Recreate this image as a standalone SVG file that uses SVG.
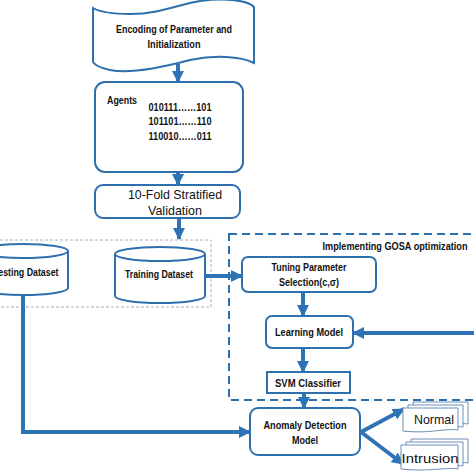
<svg xmlns="http://www.w3.org/2000/svg" width="474" height="474" viewBox="0 0 474 474">
<style>
.box{fill:#fff;stroke:#2e6fad;stroke-width:2}
.con{fill:none;stroke:#2e74b5;stroke-width:4}
.t{font-family:"Liberation Sans",Arial,sans-serif;font-size:11px;font-weight:bold;fill:#111;text-anchor:middle}
.r{font-family:"Liberation Sans",Arial,sans-serif;font-size:13px;fill:#111;text-anchor:middle}
</style>
<defs>
<marker id="ah" markerUnits="userSpaceOnUse" markerWidth="12" markerHeight="12" viewBox="0 0 12 12" refX="11" refY="6" orient="auto">
<path d="M0,0 L12,6 L0,12 Z" fill="#2e74b5"/>
</marker>
</defs>
<rect width="474" height="474" fill="#fff"/>

<g id="regions">
<rect x="-5" y="240" width="216" height="67" fill="none" stroke="#a8b0bc" stroke-width="1" stroke-dasharray="3,2"/>
<rect x="229" y="234" width="260" height="166" fill="none" stroke="#2e6fad" stroke-width="2" stroke-dasharray="8,5"/>
<text class="t" x="395" y="250" textLength="145" lengthAdjust="spacingAndGlyphs">Implementing GOSA optimization</text>
</g>

<g id="connectors">
<line class="con" x1="178" y1="64" x2="178" y2="82" marker-end="url(#ah)"/>
<line class="con" x1="178" y1="172" x2="178" y2="185" marker-end="url(#ah)"/>
<line class="con" x1="179" y1="218" x2="179" y2="239" marker-end="url(#ah)"/>
<line class="con" x1="205" y1="276" x2="242" y2="276" marker-end="url(#ah)"/>
<line class="con" x1="303" y1="292" x2="303" y2="316" marker-end="url(#ah)"/>
<line class="con" x1="474" y1="333" x2="353" y2="333" marker-end="url(#ah)"/>
<line class="con" x1="303" y1="348" x2="303" y2="372" marker-end="url(#ah)"/>
<line class="con" x1="304" y1="393" x2="304" y2="408" marker-end="url(#ah)"/>
<polyline class="con" points="23,295 23,432 250,432" marker-end="url(#ah)"/>
<line class="con" x1="361" y1="432" x2="404" y2="409" marker-end="url(#ah)"/>
<line class="con" x1="361" y1="432" x2="403" y2="464" marker-end="url(#ah)"/>
</g>

<g id="encoding">
<path class="box" d="M93,8 C100,12 110,14 130,14 C160,14 180,4 200,1 C225,-2 248,0 254,7 L254,63 C240,56 215,55 190,60 C160,68 130,74 110,70 C100,68 95,65 93,62 Z"/>
<text class="t" x="174" y="33" textLength="116" lengthAdjust="spacingAndGlyphs">Encoding of Parameter and</text>
<text class="t" x="174" y="48" textLength="53" lengthAdjust="spacingAndGlyphs">Initialization</text>
</g>

<g id="agents">
<rect class="box" x="95" y="82" width="148" height="90" rx="10"/>
<text class="t" x="122" y="104" textLength="30" lengthAdjust="spacingAndGlyphs">Agents</text>
<text class="t" x="180" y="111" textLength="63" lengthAdjust="spacingAndGlyphs">010111……101</text>
<text class="t" x="180" y="125" textLength="63" lengthAdjust="spacingAndGlyphs">101101……110</text>
<text class="t" x="180" y="140" textLength="63" lengthAdjust="spacingAndGlyphs">110010……011</text>
</g>

<g id="validation">
<rect class="box" x="95" y="185" width="145" height="33" rx="8"/>
<text class="r" x="175" y="199" textLength="94" lengthAdjust="spacingAndGlyphs">10-Fold Stratified</text>
<text class="r" x="175" y="215" textLength="54" lengthAdjust="spacingAndGlyphs">Validation</text>
</g>

<g id="testing">
<path class="box" d="M-22,251 L-22,288 A45,7 0 0 0 68,288 L68,251"/>
<ellipse class="box" cx="23" cy="251" rx="45" ry="7"/>
<text class="t" x="26" y="276" textLength="65" lengthAdjust="spacingAndGlyphs">Testing Dataset</text>
</g>

<g id="training">
<path class="box" d="M115,254 L115,296 A45,7 0 0 0 205,296 L205,254"/>
<ellipse class="box" cx="160" cy="254" rx="45" ry="7"/>
<text class="t" x="159" y="278" textLength="68" lengthAdjust="spacingAndGlyphs">Training Dataset</text>
</g>

<g id="tuning">
<rect class="box" x="242" y="257" width="134" height="35" rx="6"/>
<text class="t" x="309" y="271" textLength="75" lengthAdjust="spacingAndGlyphs">Tuning Parameter</text>
<text class="t" x="309" y="286" textLength="60" lengthAdjust="spacingAndGlyphs">Selection(c,σ)</text>
</g>

<g id="learning">
<rect class="box" x="266" y="316" width="87" height="32" rx="6"/>
<text class="t" x="309" y="336" textLength="68" lengthAdjust="spacingAndGlyphs">Learning Model</text>
</g>

<g id="svm">
<rect class="box" x="267" y="372" width="83" height="21"/>
<text class="t" x="308" y="387" textLength="66" lengthAdjust="spacingAndGlyphs">SVM Classifier</text>
</g>

<g id="anomaly">
<rect class="box" x="250" y="408" width="110" height="47" rx="8"/>
<text class="t" x="305" y="429" textLength="83" lengthAdjust="spacingAndGlyphs">Anomaly Detection</text>
<text class="t" x="305" y="444" textLength="26" lengthAdjust="spacingAndGlyphs">Model</text>
</g>

<g id="normal">
<path fill="#fff" stroke="#6b8fb8" stroke-width="1" d="M413,402 L468,402 L468,424 C455,422 440,427 413,424 Z"/>
<path fill="#fff" stroke="#6b8fb8" stroke-width="1" d="M408,405 L463,405 L463,427 C450,425 435,430 408,427 Z"/>
<path fill="#fff" stroke="#6b8fb8" stroke-width="1" d="M403,408 L458,408 L458,430 C445,428 430,434 403,431 Z"/>
<text class="r" x="434" y="424" font-size="14" textLength="40" lengthAdjust="spacingAndGlyphs">Normal</text>
</g>

<g id="intrusion">
<path fill="#fff" stroke="#6b8fb8" stroke-width="1" d="M411,439 L468,439 L468,463 C455,461 440,466 411,463 Z"/>
<path fill="#fff" stroke="#6b8fb8" stroke-width="1" d="M406,442 L463,442 L463,466 C450,464 435,469 406,466 Z"/>
<path fill="#fff" stroke="#6b8fb8" stroke-width="1" d="M401,445 L458,445 L458,469 C445,467 430,472 401,469 Z"/>
<text class="r" x="430" y="463" font-size="14" textLength="57" lengthAdjust="spacingAndGlyphs">Intrusion</text>
</g>
</svg>
